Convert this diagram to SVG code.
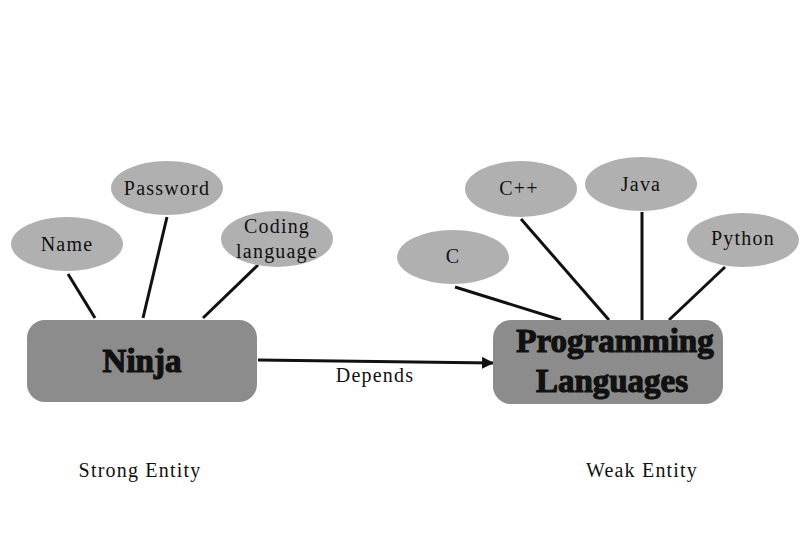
<svg xmlns="http://www.w3.org/2000/svg" width="800" height="560" viewBox="0 0 800 560">
<style>
.a{fill:#b0b0b0}
.e{fill:#8c8c8c}
.t{font-family:"Liberation Serif",serif;font-size:20px;letter-spacing:1.2px;fill:#111;text-anchor:middle}
.b{font-family:"Liberation Serif",serif;font-size:33px;font-weight:900;fill:#111;text-anchor:middle;stroke:#111;stroke-width:1.2}
.c line{stroke:#111;stroke-width:3}
</style>
<defs><marker id="ar" markerWidth="12" markerHeight="12" refX="11" refY="6" orient="auto" markerUnits="userSpaceOnUse" viewBox="0 0 12 12"><path d="M0,0L12,6L0,12z" fill="#111"/></marker></defs>
<rect width="800" height="560" fill="#fff"/>
<g class="c" id="connectors">
<line x1="68" y1="274" x2="95" y2="318"/>
<line x1="167" y1="217" x2="143" y2="318"/>
<line x1="258" y1="265" x2="203" y2="318"/>
<line x1="455" y1="287" x2="561" y2="320"/>
<line x1="521" y1="219" x2="609" y2="320"/>
<line x1="642" y1="212" x2="642" y2="320"/>
<line x1="725" y1="267" x2="669" y2="320"/>
<line x1="258" y1="360" x2="493" y2="363" marker-end="url(#ar)"/>
<text class="t" x="375" y="382">Depends</text>
</g>
<g id="ninja"><rect class="e" x="27" y="320" width="230" height="82" rx="18"/><text class="b" x="142" y="372">Ninja</text></g>
<g id="pl"><rect class="e" x="493" y="320" width="230" height="84" rx="18"/><text class="b" x="615" y="352">Programming</text><text class="b" x="612" y="392">Languages</text></g>
<g id="name"><ellipse class="a" cx="67" cy="244" rx="56" ry="27"/><text class="t" x="67" y="251">Name</text></g>
<g id="password"><ellipse class="a" cx="167" cy="188" rx="56" ry="27"/><text class="t" x="167" y="195">Password</text></g>
<g id="coding"><ellipse class="a" cx="277" cy="239" rx="56" ry="28"/><text class="t" x="277" y="233">Coding</text><text class="t" x="277" y="258">language</text></g>
<g id="c"><ellipse class="a" cx="453" cy="257" rx="56" ry="27"/><text class="t" x="453" y="263">C</text></g>
<g id="cpp"><ellipse class="a" cx="521" cy="189" rx="56" ry="28"/><text class="t" x="519" y="195">C++</text></g>
<g id="java"><ellipse class="a" cx="641" cy="184" rx="56" ry="27"/><text class="t" x="641" y="191">Java</text></g>
<g id="python"><ellipse class="a" cx="743" cy="240" rx="56" ry="27"/><text class="t" x="743" y="245">Python</text></g>
<text class="t" x="140" y="477">Strong Entity</text>
<text class="t" x="642" y="477">Weak Entity</text>
</svg>
